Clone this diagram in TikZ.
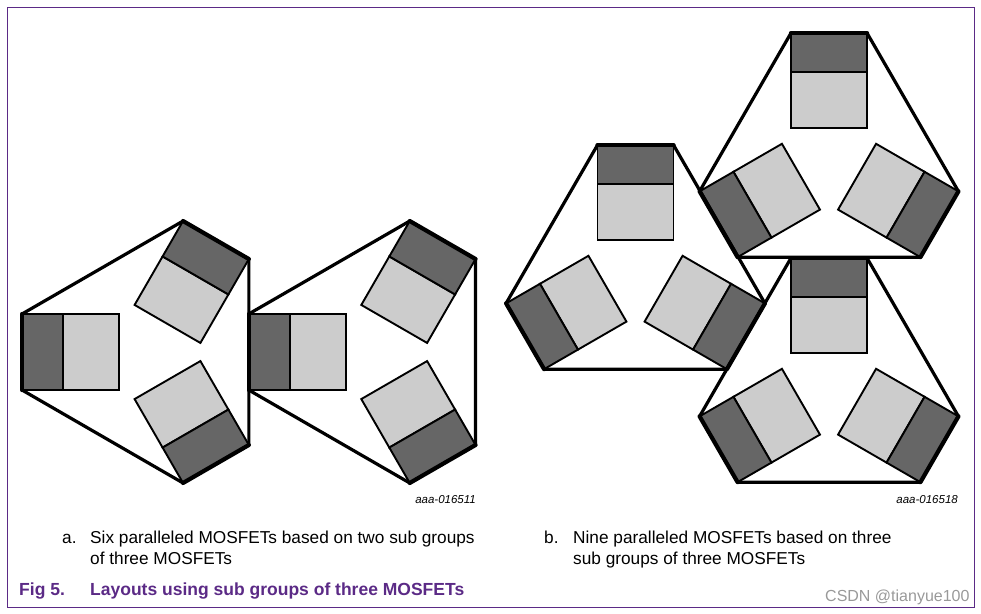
\documentclass[tikz,border=0pt]{standalone}
\usepackage{fontspec}
\setmainfont{Liberation Sans}
\definecolor{framecol}{HTML}{5B2A86}
\definecolor{darkcol}{HTML}{666666}
\definecolor{lightcol}{HTML}{CCCCCC}
\tikzset{
	darkpart/.style={fill=darkcol, draw=black, line width=1.9pt},
	lightpart/.style={fill=lightcol, draw=black, line width=1.9pt},
	outline/.style={draw=black, line width=3.2pt, line cap=round},
	bodytext/.style={anchor=base west, inner sep=0pt, font=\fontsize{17.25}{20}\selectfont},
	titletext/.style={anchor=base west, inner sep=0pt, text=framecol, font=\fontsize{17.5}{20}\selectfont\bfseries},
	codetext/.style={anchor=base east, inner sep=0pt, font=\fontsize{11.5}{13}\selectfont\itshape},
	pics/subgroup/.style={code={
		\foreach \ang in {0,120,240} {
			\begin{scope}[rotate=\ang]
				\draw[lightpart] (-38,-88.4) rectangle (38,-32.4);
				\draw[darkpart] (-38,-#1) rectangle (38,-88.4);
				\draw[outline, line width=4.2pt] (-38,-#1) -- (38,-#1);
				\draw[outline] (38,-#1) -- ({19+.866*#1},{.5*#1-32.9});
			\end{scope}
		}
	}}
}
\begin{document}
\begin{tikzpicture}[x=1pt, y=-1pt]
	\useasboundingbox (0,0) rectangle (981,613);
	\draw[framecol, line width=1pt] (7.5,7.5) rectangle (974,607);

	% layout a
	\pic[rotate=90] at (151.3,352) {subgroup=129.3};
	\pic[rotate=90] at (378,352) {subgroup=129.3};
	% layout b
	\pic at (829,160.5) {subgroup=127.5};
	\pic at (635.5,272.5) {subgroup=127.5};
	\pic at (829,385.5) {subgroup=127.5};

	\node[codetext] (codea) at (476,503) {aaa-016511};
	\node[codetext] (codeb) at (958,503) {aaa-016518};

	\node[bodytext] (marka) at (62,543) {a.};
	\node[bodytext] (texta) at (90,543) {Six paralleled MOSFETs based on two sub groups};
	\node[bodytext] (textaa) at (90,564) {of three MOSFETs};
	\node[bodytext] (markb) at (544,543) {b.};
	\node[bodytext] (textb) at (573,543) {Nine paralleled MOSFETs based on three};
	\node[bodytext] (textbb) at (573,564) {sub groups of three MOSFETs};

	\node[titletext] (figno) at (19,595) {Fig 5.};
	\node[titletext] (figtitle) at (90,595) {Layouts using sub groups of three MOSFETs};
	\node[bodytext, text=black!40, font=\fontsize{16}{19}\selectfont] (mark) at (825,601) {CSDN @tianyue100};
\end{tikzpicture}
\end{document}
